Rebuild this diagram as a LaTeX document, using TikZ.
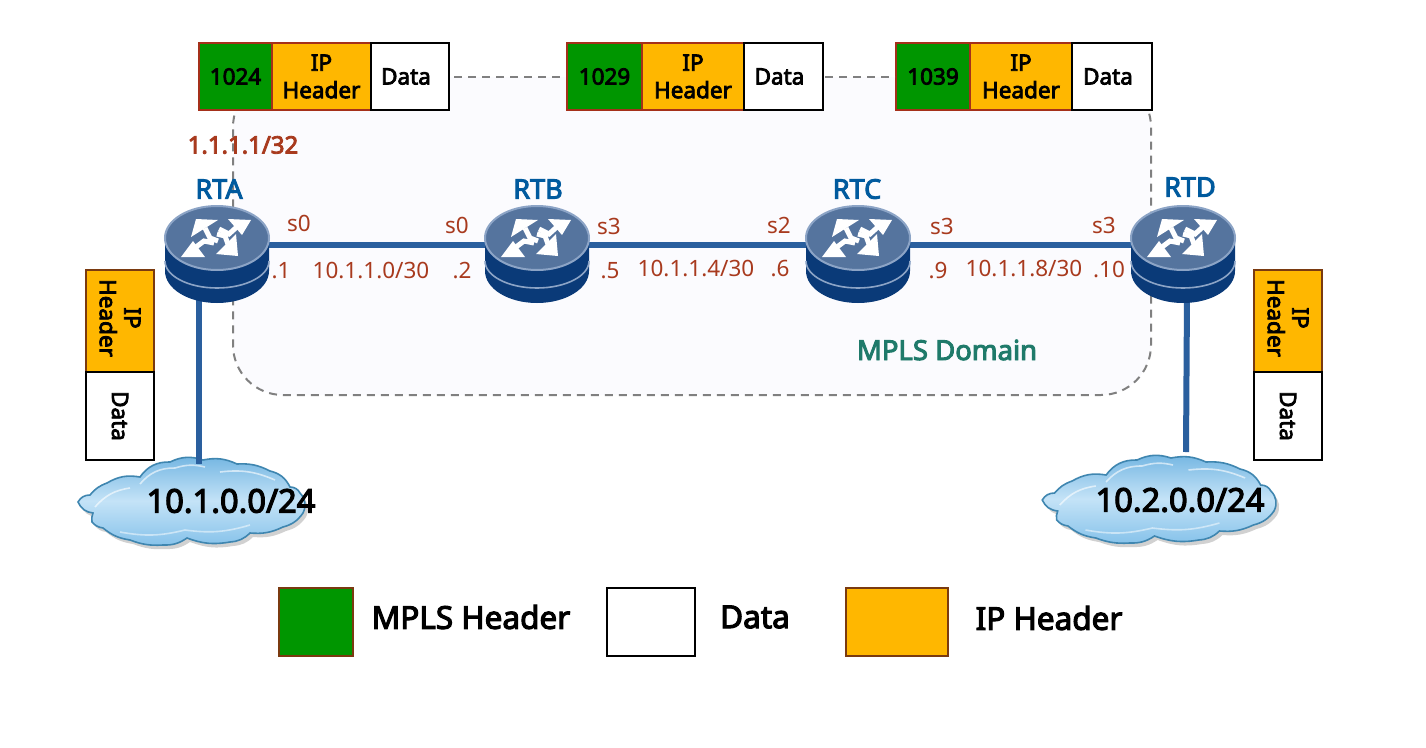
\documentclass[tikz,border=0pt]{standalone}
\usepackage{fontspec}
\setmainfont{Noto Sans}[BoldFont={Noto Sans},BoldFeatures={FakeBold=3.5}]
\definecolor{lblue}{HTML}{2A5F9E}
\definecolor{rtblue}{HTML}{005A9E}
\definecolor{lred}{HTML}{A83A1E}
\definecolor{gboxc}{HTML}{009600}
\definecolor{oboxc}{HTML}{FFB700}
\definecolor{bred}{HTML}{A5301A}
\definecolor{bbrown}{HTML}{7A3A10}
\definecolor{teal2}{HTML}{1F7A6A}
\definecolor{dgray}{HTML}{808080}
\definecolor{rdark}{HTML}{0A3A78}
\definecolor{rface}{HTML}{55749E}
\definecolor{rring}{HTML}{8CA4C6}
\definecolor{cltop}{HTML}{74B6E2}
\definecolor{clmid}{HTML}{C4E3F7}
\definecolor{clbot}{HTML}{86C2EA}
\definecolor{cledge}{HTML}{3F86B0}
\definecolor{domfill}{HTML}{FBFBFE}
\newcommand{\fs}[1]{\fontsize{#1}{#1}\selectfont}
\newcommand{\cloudshape}{(8,52) to[bend left=30] (20,45) to[bend left=15] (37,33) to[bend left=20] (70,27)
 to[bend left=28] (100,12) to[bend left=22] (133,10) to[bend left=18] (167,14) to[bend left=15] (200,21)
 to[bend left=25] (220,37) to[bend left=30] (230,43) to[bend left=35] (233,63) to[bend left=20] (213,77)
 to[bend left=15] (180,83) to[bend left=20] (160,92) to[bend left=15] (117,88) to[bend left=18] (93,95)
 to[bend left=12] (60,90) to[bend left=15] (33,78) to[bend left=20] (22,72) to[bend left=15] (23,63)
 to[bend left=30] (8,52) -- cycle}
\tikzset{
 x=1pt,y=-1pt,
 pbox/.style={draw,line width=2.4pt,inner sep=0pt,outer sep=0pt,anchor=north west,align=center,text=black,font=\fs{22.5}\bfseries},
 gbox/.style={pbox,fill=gboxc,draw=bred,minimum width=73pt,minimum height=67pt},
 obox/.style={pbox,fill=oboxc,draw=bred,minimum width=100pt,minimum height=67pt},
 wbox/.style={pbox,fill=white,draw=black,minimum width=78pt,minimum height=67pt},
 vobox/.style={draw=bbrown,fill=oboxc,line width=2.4pt,rotate=-90,inner sep=0pt,outer sep=0pt,minimum width=102pt,minimum height=68pt,align=center,font=\fs{22.5}\bfseries},
 vwbox/.style={draw=black,fill=white,line width=2.4pt,rotate=-90,inner sep=0pt,outer sep=0pt,minimum width=88pt,minimum height=68pt,font=\fs{22.5}\bfseries},
 legbox/.style={line width=2.4pt,inner sep=0pt,outer sep=0pt,anchor=north west,minimum height=68pt},
 leglabel/.style={font=\fs{31.5}\bfseries,text=black,inner sep=0pt},
 rlabel/.style={font=\fs{27}\bfseries,text=rtblue,inner sep=0pt},
 iflabel/.style={font=\fs{22.5},text=lred,inner sep=0pt},
 netlabel/.style={font=\fs{32.6}\bfseries,text=black,inner sep=0pt},
 routernode/.style={inner sep=0pt,outer sep=0pt,minimum width=104pt,minimum height=10pt},
 link/.style={draw=lblue,line width=5.5pt},
 drop/.style={draw=lblue,line width=6pt},
 dashline/.style={draw=dgray,line width=2pt,dash pattern=on 8pt off 6pt},
 pics/routericon/.style={code={
  \fill[rdark] (-52,0) -- (-52,33) arc[start angle=180,end angle=0,x radius=52,y radius=32] -- (52,0) -- cycle;
  \draw[rring,line width=1.6pt] (-52,23) arc[start angle=180,end angle=0,x radius=52,y radius=27];
  \draw[rring,line width=2pt,fill=rface] (0,0) ellipse[x radius=52,y radius=32];
  \begin{scope}[white]
   \fill (34,-18) -- (11,-19) -- (25,-3) -- cycle;
   \draw[line width=5pt,line join=miter] (2,-9) -- (12,-4) -- (22,-13);
   \fill (-36,19) -- (-24,3) -- (-12,19) -- cycle;
   \draw[line width=5pt,line join=miter] (-3,5) -- (-13,3) -- (-25,12);
   \fill (-21,-19) -- (1,-18) -- (-26,-1) -- cycle;
   \draw[line width=5pt,line join=miter] (-12,-10) -- (-7,0) -- (1,3);
   \fill (21,18) -- (19,-4) -- (-1,16) -- cycle;
   \draw[line width=5pt,line join=miter] (12,9) -- (8,-2) -- (0,-4);
  \end{scope}
 }},
 pics/cloudicon/.style={code={
  \fill[black,opacity=.18,shift={(3,4)}] \cloudshape;
  \draw[draw=cledge,line width=1.6pt,top color=cltop,bottom color=clbot,middle color=clmid] \cloudshape;
  \draw[white,line width=1.6pt,opacity=.6] (70,34) to[bend left=25] (105,18) to[bend left=15] (135,17);
  \draw[white,line width=1.6pt,opacity=.6] (25,57) to[bend left=20] (60,38);
  \draw[white,line width=1.6pt,opacity=.6] (150,22) to[bend left=15] (205,30);
  \draw[white,line width=1.6pt,opacity=.5] (50,82) to[bend right=12] (115,80) to[bend right=12] (180,75);
 }}
}
\begin{document}
\begin{tikzpicture}
\useasboundingbox (0,0) rectangle (1426,747);
\fill[white] (0,0) rectangle (1426,747);
% MPLS domain: fill, then the outline without its top edge
\fill[domfill,rounded corners=50pt] (233,77) rectangle (1151,395);
\draw[dashline,rounded corners=50pt] (300,77) -- (233,77) -- (233,395) -- (1151,395) -- (1151,77) -- (1090,77);
% routers as named anchors
\node[routernode] (rta) at (217,245) {};
\node[routernode] (rtb) at (537,245) {};
\node[routernode] (rtc) at (858,245) {};
\node[routernode] (rtd) at (1183,245) {};
\coordinate (tapa) at (199,295);
\coordinate (tapd) at (1187,295);
\coordinate (cloudatop) at (199,464);
\coordinate (cloudbtop) at (1186,452);
% links
\draw[link] (rta.east) -- (rtb.west);
\draw[link] (rtb.east) -- (rtc.west);
\draw[link] (rtc.east) -- (rtd.west);
\pic at (70,450) {cloudicon};
\pic[xscale=1.03] at (1034,448) {cloudicon};
\draw[drop] (tapa) -- (cloudatop);
\draw[drop] (tapd) -- (cloudbtop);
\pic at (217,238) {routericon};
\pic at (537,238) {routericon};
\pic at (858,238) {routericon};
\pic at (1183,238) {routericon};
% packets
\node[gbox] (ga) at (199,43) {1024};
\node[obox,minimum width=99pt] (oa) at (272,43) {IP\\[5pt]Header};
\node[wbox] (da) at (371,43) {Data\hspace*{8pt}};
\node[gbox,minimum width=75pt] (gb) at (567,43) {1029};
\node[obox,minimum width=102pt] (ob) at (642,43) {IP\\[5pt]Header};
\node[wbox,minimum width=79pt] (db) at (744,43) {Data\hspace*{8pt}};
\node[gbox,minimum width=74pt] (gc) at (896,43) {1039};
\node[obox,minimum width=102pt] (oc) at (970,43) {IP\\[5pt]Header};
\node[wbox,minimum width=80pt] (dc) at (1072,43) {Data\hspace*{8pt}};
\draw[dashline,shorten >=4pt,shorten <=5pt] (da.east) -- (gb.west);
\draw[dashline,shorten >=1pt,shorten <=2pt] (db.east) -- (gc.west);
% vertical packets
\node[vobox] (vol) at (120,321) {IP\hspace*{6pt}\\[2pt]Header\hspace*{6pt}};
\node[vwbox] (vwl) at (120,416) {Data};
\node[vobox] (vor) at (1288,321) {IP\hspace*{6pt}\\[2pt]Header\hspace*{6pt}};
\node[vwbox] (vwr) at (1288,416) {Data};
% labels
\node[font=\fs{24}\bfseries,text=lred,inner sep=0pt] (loop) at (243,145) {1.1.1.1/32};
\node[rlabel] (la) at (219,189) {RTA};
\node[rlabel] (lb) at (538,189) {RTB};
\node[rlabel] (lc) at (857,189) {RTC};
\node[rlabel] (ld) at (1190,187) {RTD};
\node[iflabel] (i1) at (299,223) {s0};
\node[iflabel] (i2) at (457,225) {s0};
\node[iflabel] (i3) at (609,226) {s3};
\node[iflabel] (i4) at (779,225) {s2};
\node[iflabel] (i5) at (942,226) {s3};
\node[iflabel] (i6) at (1104,225) {s3};
\node[iflabel] (a1) at (281,271) {.1};
\node[iflabel] (n1) at (371,270) {10.1.1.0/30};
\node[iflabel] (a2) at (462,271) {.2};
\node[iflabel] (a3) at (610,271) {.5};
\node[iflabel] (n2) at (696,268) {10.1.1.4/30};
\node[iflabel] (a4) at (780,269) {.6};
\node[iflabel] (a5) at (938,271) {.9};
\node[iflabel] (n3) at (1024,268) {10.1.1.8/30};
\node[iflabel] (a6) at (1109,269) {.10};
\node[font=\fs{27.5}\bfseries,text=teal2,inner sep=0pt] (dom) at (947,350) {MPLS Domain};
\node[netlabel] (neta) at (231,501) {10.1.0.0/24};
\node[netlabel] (netb) at (1180,500) {10.2.0.0/24};
% legend
\node[legbox,draw=bbrown,fill=gboxc,minimum width=74pt] (lg) at (279,588) {};
\node[legbox,draw=black,fill=white,minimum width=88pt] (lw) at (607,588) {};
\node[legbox,draw=bbrown,fill=oboxc,minimum width=102pt] (lo) at (846,588) {};
\node[leglabel] (t1) at (471,617) {MPLS Header};
\node[leglabel] (t2) at (755,617) {Data};
\node[leglabel] (t3) at (1049,618) {IP Header};
\end{tikzpicture}
\end{document}
